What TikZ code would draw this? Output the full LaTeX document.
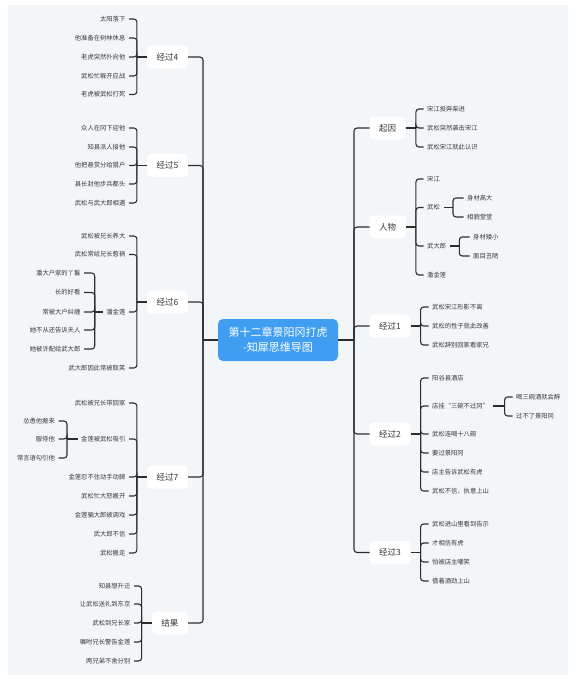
\documentclass[tikz,border=0pt]{standalone}
\usepackage{fontspec}
\setmainfont{Noto Sans CJK SC}
\usetikzlibrary{calc}
\definecolor{bgc}{RGB}{243,246,249}
\definecolor{lnc}{RGB}{45,45,45}
\definecolor{txc}{RGB}{55,55,55}
\definecolor{cblue}{RGB}{64,158,242}
\newcommand{\mmR}[3]{%
  \coordinate (#1b) at ($(#1.east)+(#2,0)$);
  \draw[conn] (#1.east) -- (#1b);
  \foreach \kid in {#3}{\draw[conn] (#1b) |- (\kid.west);}}
\newcommand{\mmL}[3]{%
  \coordinate (#1b) at ($(#1.west)+(-#2,0)$);
  \draw[conn] (#1.west) -- (#1b);
  \foreach \kid in {#3}{\draw[conn] (#1b) |- (\kid.east);}}
\begin{document}
\begin{tikzpicture}[x=1pt,y=-1pt,
  conn/.style={draw=lnc,line width=1.1pt,rounded corners=3pt},
  topic/.style={fill=white,rounded corners=4pt,font=\fontsize{8.5}{10}\selectfont,text=txc,inner xsep=9.5pt,inner ysep=0pt,minimum height=23pt},
  leaf/.style={font=\fontsize{6.3}{7.5}\selectfont,text=txc,inner xsep=3.5pt,inner ysep=1pt},
  leafL/.style={leaf,anchor=east},
  leafR/.style={leaf,anchor=west},
  rootbox/.style={fill=cblue,text=white,rounded corners=5pt,minimum width=120pt,minimum height=42pt,align=center,font=\fontsize{11}{15}\selectfont,inner sep=2pt}]
\useasboundingbox (0,0) rectangle (576,680);
\fill[white] (0,0) rectangle (576,680);
\fill[bgc] (8,5) rectangle (568,675);

% root
\node[rootbox] (root) at (278,340) {第十二章景阳冈打虎\\-知犀思维导图};

% left topics
\node[topic,anchor=east] (q4) at (188,57) {经过4};
\node[topic,anchor=east] (q5) at (188,165.5) {经过5};
\node[topic,anchor=east] (q6) at (188,302) {经过6};
\node[topic,anchor=east] (q7) at (188,477) {经过7};
\node[topic,anchor=east] (qr) at (188,623) {结果};

% right topics
\node[topic,anchor=west] (p0) at (369.5,128) {起因};
\node[topic,anchor=west] (p1) at (369.5,227) {人物};
\node[topic,anchor=west] (p2) at (369.5,326) {经过1};
\node[topic,anchor=west] (p3) at (369.5,434) {经过2};
\node[topic,anchor=west] (p4) at (369.5,552.5) {经过3};

% trunks
\coordinate (tl) at (203,340);
\coordinate (tr) at (354,340);
\draw[conn] (root.west) -- (tl);
\draw[conn] (root.east) -- (tr);
\foreach \t in {q4,q5,q6,q7,qr}{\draw[conn] (tl) |- (\t.east);}
\foreach \t in {p0,p1,p2,p3,p4}{\draw[conn] (tr) |- (\t.west);}

% ---- left: 经过4
\node[leafL] (a1) at (129,19) {太阳落下};
\node[leafL] (a2) at (129,38) {他准备在树林休息};
\node[leafL] (a3) at (129,57) {老虎突然扑向他};
\node[leafL] (a4) at (129,76) {武松忙躲开应战};
\node[leafL] (a5) at (129,94.5) {老虎被武松打死};
\mmL{q4}{10}{a1,a2,a3,a4,a5}

% ---- 经过5
\node[leafL] (b1) at (129,128) {众人在冈下迎他};
\node[leafL] (b2) at (129,147) {知县派人接他};
\node[leafL] (b3) at (129,165.5) {他把悬赏分给猎户};
\node[leafL] (b4) at (129,184) {县长封他步兵都头};
\node[leafL] (b5) at (129,203) {武松与武大郎相遇};
\mmL{q5}{10}{b1,b2,b3,b4,b5}

% ---- 经过6
\node[leafL] (c1) at (129,236) {武松被兄长养大};
\node[leafL] (c2) at (129,254.5) {武松常给兄长惹祸};
\node[leafL] (c3) at (129,312) {潘金莲};
\node[leafL] (c4) at (129,368) {武大郎因此常被取笑};
\mmL{q6}{10}{c1,c2,c3,c4}
\node[leafL] (c31) at (84,273) {潘大户家的丫鬟};
\node[leafL] (c32) at (84,292.5) {长的好看};
\node[leafL] (c33) at (84,312) {常被大户纠缠};
\node[leafL] (c34) at (84,330) {她不从还告诉夫人};
\node[leafL] (c35) at (84,349) {她被许配给武大郎};
\mmL{c3}{8}{c31,c32,c33,c34,c35}

% ---- 经过7
\node[leafL] (d1) at (129,403) {武松被兄长带回家};
\node[leafL] (d2) at (129,439) {金莲被武松吸引};
\node[leafL] (d3) at (129,477) {金莲忍不住动手动脚};
\node[leafL] (d4) at (129,496) {武松忙大怒搬开};
\node[leafL] (d5) at (129,515) {金莲骗大郎被调戏};
\node[leafL] (d6) at (129,534) {武大郎不信};
\node[leafL] (d7) at (129,553) {武松搬走};
\mmL{q7}{10}{d1,d2,d3,d4,d5,d6,d7}
\node[leafL] (d21) at (58.5,421) {怂恿他搬来};
\node[leafL] (d22) at (58.5,439) {服侍他};
\node[leafL] (d23) at (58.5,458) {常言语勾引他};
\mmL{d2}{10.5}{d21,d22,d23}

% ---- 结果
\node[leafL] (e1) at (134,586) {知县想升迁};
\node[leafL] (e2) at (134,604) {让武松送礼到东京};
\node[leafL] (e3) at (134,623) {武松到兄长家};
\node[leafL] (e4) at (134,642) {嘱咐兄长警告金莲};
\node[leafL] (e5) at (134,661) {两兄弟不舍分别};
\mmL{qr}{10}{e1,e2,e3,e4,e5}

% ---- right: 起因
\node[leafR] (f1) at (423.5,109) {宋江投奔柴进};
\node[leafR] (f2) at (423.5,128) {武松突然袭击宋江};
\node[leafR] (f3) at (423.5,147) {武松宋江就此认识};
\mmR{p0}{10}{f1,f2,f3}

% ---- 人物
\node[leafR] (g1) at (423.5,179) {宋江};
\node[leafR] (g2) at (423.5,207.5) {武松};
\node[leafR] (g3) at (423.5,246) {武大郎};
\node[leafR] (g4) at (423.5,275) {潘金莲};
\mmR{p1}{10}{g1,g2,g3,g4}
\node[leafR] (g21) at (463.5,198) {身材高大};
\node[leafR] (g22) at (463.5,217) {相貌堂堂};
\mmR{g2}{9.5}{g21,g22}
\node[leafR] (g31) at (469.5,237) {身材矮小};
\node[leafR] (g32) at (469.5,256) {面目丑陋};
\mmR{g3}{9.5}{g31,g32}

% ---- 经过1
\node[leafR] (h1) at (428.5,307) {武松宋江形影不离};
\node[leafR] (h2) at (428.5,326) {武松的性子就此改善};
\node[leafR] (h3) at (428.5,345) {武松辞别回家看家兄};
\mmR{p2}{10}{h1,h2,h3}

% ---- 经过2
\node[leafR] (i1) at (428.5,378) {阳谷县酒店};
\node[leafR] (i2) at (428.5,406) {店挂“三碗不过冈”};
\node[leafR] (i3) at (428.5,434) {武松连喝十八碗};
\node[leafR] (i4) at (428.5,453) {要过景阳冈};
\node[leafR] (i5) at (428.5,472) {店主告诉武松有虎};
\node[leafR] (i6) at (428.5,491) {武松不信，执意上山};
\mmR{p3}{10}{i1,i2,i3,i4,i5,i6}
\node[leafR] (i21) at (512.5,397) {喝三碗酒就会醉};
\node[leafR] (i22) at (512.5,416) {过不了景阳冈};
\mmR{i2}{12}{i21,i22}

% ---- 经过3
\node[leafR] (j1) at (428.5,524) {武松进山里看到告示};
\node[leafR] (j2) at (428.5,543) {才相信有虎};
\node[leafR] (j3) at (428.5,562) {怕被店主嘲笑};
\node[leafR] (j4) at (428.5,581) {借着酒劲上山};
\mmR{p4}{10}{j1,j2,j3,j4}
\end{tikzpicture}
\end{document}
